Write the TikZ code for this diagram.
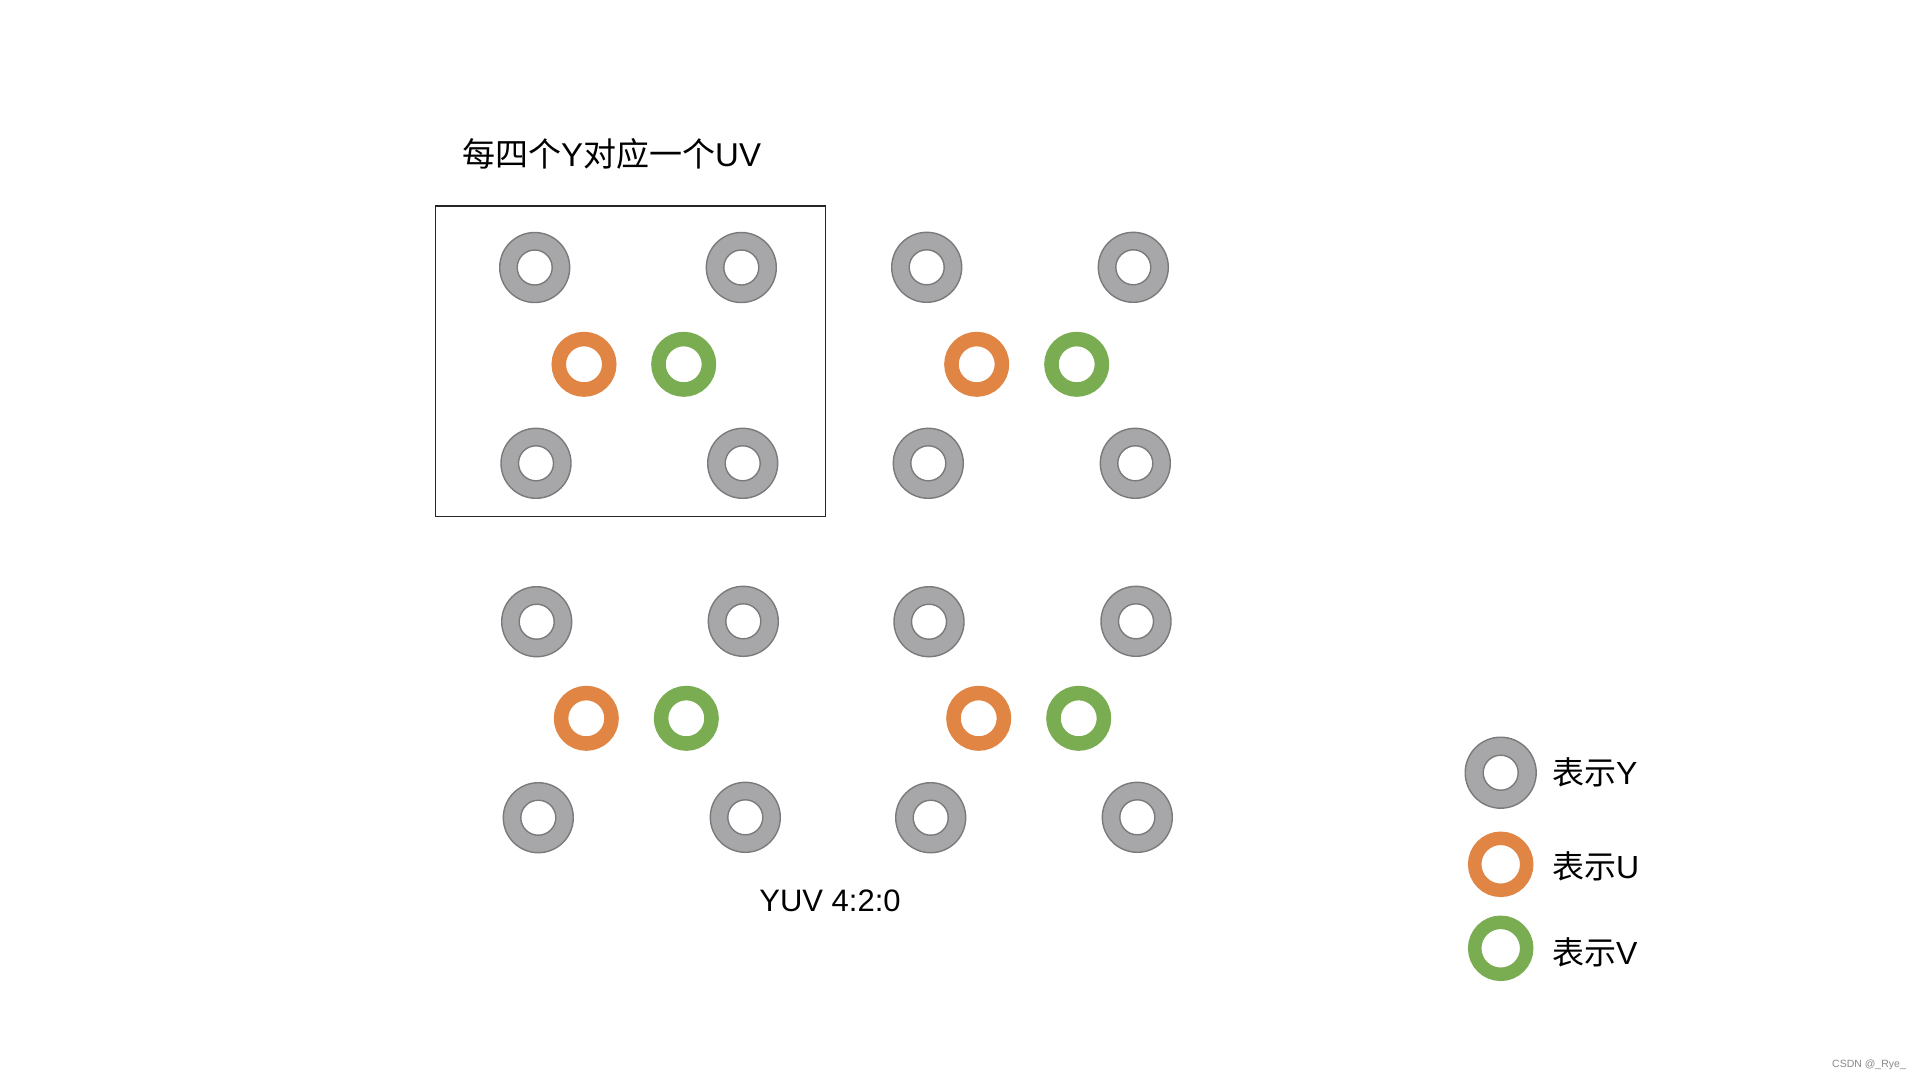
\documentclass[tikz,border=0pt]{standalone}
\usepackage{fontspec}
\setmainfont{Noto Sans CJK SC}
\newfontfamily\latfont{Liberation Sans}
\definecolor{yfill}{HTML}{A7A7A9}
\definecolor{ydark}{HTML}{7A7A7A}
\definecolor{uorange}{HTML}{E08543}
\definecolor{vgreen}{HTML}{7AAD52}
\definecolor{wmark}{HTML}{8A8A8A}
\tikzset{
  yring/.style={circle, inner sep=0pt, minimum size=70pt, fill=yfill, draw=ydark, line width=1.4pt,
    path picture={\draw[fill=white, draw=ydark, line width=1.4pt] (path picture bounding box.center) circle (17.5pt);}},
  uring/.style={circle, inner sep=0pt, minimum size=50.5pt, draw=uorange, line width=14.5pt},
  vring/.style={circle, inner sep=0pt, minimum size=50.5pt, draw=vgreen, line width=14.5pt},
  bigtext/.style={inner sep=0pt, font=\fontsize{33}{39}\selectfont},
  legtext/.style={inner sep=0pt, anchor=west, font=\fontsize{32}{38}\selectfont},
}
\begin{document}
\begin{tikzpicture}[x=1pt, y=-1pt]
\fill[white] (0,0) rectangle (1920,1080);
\useasboundingbox (0,0) rectangle (1920,1080);

% title
\node[bigtext, anchor=west] (title) at (462,154) {每四个{\latfont Y}对应一个{\latfont UV}};

% frame
\node[draw=black!85, line width=1.5pt, minimum width=390pt, minimum height=310.7pt, inner sep=0pt] (frame) at (630.7,361.3) {};

% group 1 (top-left)
\node[yring] (a1) at (534.7,267.5) {};
\node[yring] (a2) at (741.3,267.5) {};
\node[uring] (au) at (584.0,364.3) {};
\node[vring] (av) at (683.7,364.3) {};
\node[yring] (a3) at (536.0,463.3) {};
\node[yring] (a4) at (742.7,463.3) {};

% group 2 (top-right)
\node[yring] (b1) at (926.7,267.3) {};
\node[yring] (b2) at (1133.3,267.3) {};
\node[uring] (bu) at (976.7,364.3) {};
\node[vring] (bv) at (1076.7,364.3) {};
\node[yring] (b3) at (928.3,463.3) {};
\node[yring] (b4) at (1135.3,463.3) {};

% group 3 (bottom-left)
\node[yring] (c1) at (536.7,621.7) {};
\node[yring] (c2) at (743.3,621.3) {};
\node[uring] (cu) at (586.3,718.3) {};
\node[vring] (cv) at (686.3,718.3) {};
\node[yring] (c3) at (538.3,817.7) {};
\node[yring] (c4) at (745.3,817.3) {};

% group 4 (bottom-right)
\node[yring] (d1) at (929.0,621.7) {};
\node[yring] (d2) at (1136.0,621.3) {};
\node[uring] (du) at (978.7,718.3) {};
\node[vring] (dv) at (1078.7,718.3) {};
\node[yring] (d3) at (930.7,817.7) {};
\node[yring] (d4) at (1137.3,817.3) {};

% caption
\node[inner sep=0pt, font=\latfont\fontsize{31}{37}\selectfont] (caption) at (830,901) {YUV 4:2:0};

% legend
\node[yring, minimum size=71pt] (ly) at (1500.7,772.7) {};
\node[uring, minimum size=52pt, line width=13.5pt] (lu) at (1500.7,864.3) {};
\node[vring, minimum size=52pt, line width=13.5pt] (lv) at (1500.7,948.3) {};
\node[legtext] (lyt) at (1552,772) {表示{\latfont Y}};
\node[legtext] (lut) at (1552,866) {表示{\latfont U}};
\node[legtext] (lvt) at (1552,952) {表示{\latfont V}};

% watermark
\node[inner sep=0pt, text=wmark, font=\latfont\fontsize{10.5}{13}\selectfont] (wm) at (1869,1065) {CSDN @\_Rye\_};
\end{tikzpicture}
\end{document}
